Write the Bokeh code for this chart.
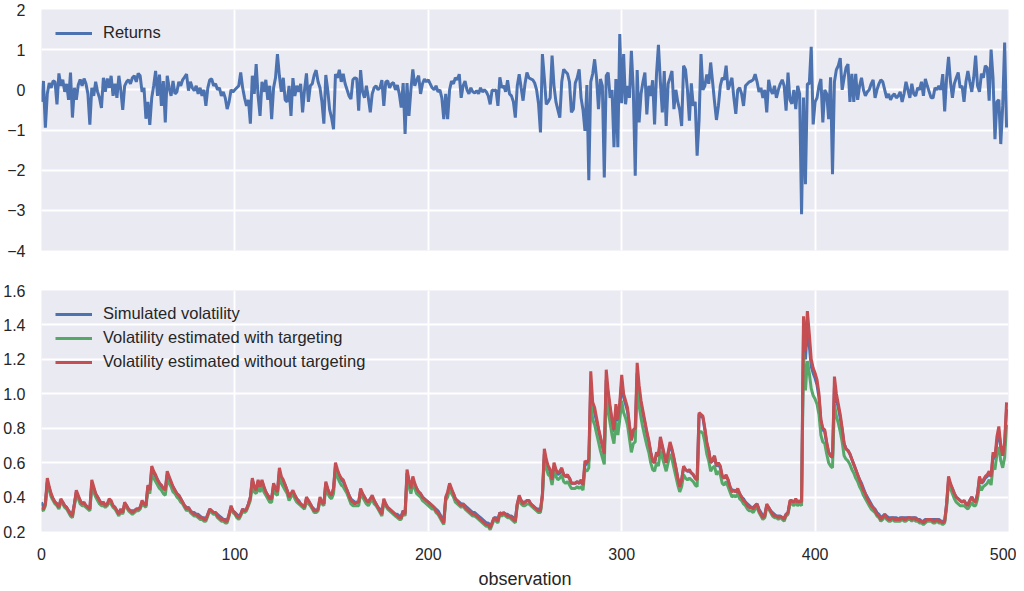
from bokeh.plotting import figure
from bokeh.layouts import column
from bokeh.models import Range1d, FixedTicker, CustomJSTickFormatter, ColumnDataSource
from bokeh.embed import file_html
from bokeh.resources import INLINE

# ---------------- data ----------------
returns = [
    -0.3, 0.22, -0.94, -0.1, 0.17, 0.05, 0.22, 0.2, -0.36, 0.41,
    0.1, 0.25, -0.05, 0.15, -0.25, 0.43, -0.69, 0.05, -0.25, 0.12,
    0.26, 0.1, 0.28, 0.15, -0.1, -0.87, 0.05, -0.15, 0.2, -0.05,
    -0.2, -0.45, 0.3, -0.05, 0.28, 0.05, 0.35, -0.15, 0.15, -0.2,
    0.35, 0.0, -0.5, 0.1, 0.2, 0.25, 0.15, 0.3, 0.35, 0.2,
    0.41, 0.35, -0.05, 0.05, -0.72, -0.3, -0.87, -0.2, 0.1, 0.47,
    -0.15, 0.38, -0.4, 0.22, -0.81, 0.35, 0.05, -0.15, 0.22, -0.1,
    -0.05, 0.2, 0.1, 0.25, 0.32, 0.39, -0.02, 0.2, 0.05, -0.02,
    0.1, -0.1, 0.05, -0.15, 0.0, -0.4, 0.05, 0.25, 0.27, 0.1,
    0.15, 0.0, 0.05, -0.15, -0.05, -0.2, -0.48, -0.3, 0.0, -0.05,
    0.0, 0.05, 0.1, 0.43, 0.05, -0.2, -0.4, -0.25, -0.84, 0.35,
    -0.1, 0.64, -0.15, -0.65, 0.2, -0.05, 0.25, -0.25, 0.1, -0.73,
    0.05, 0.3, 0.89, 0.35, -0.05, 0.3, -0.25, -0.3, 0.1, -0.65,
    0.29, -0.15, 0.1, -0.05, 0.15, -0.56, 0.0, 0.41, -0.3, 0.1,
    0.15, 0.37, 0.49, 0.2, 0.05, -0.3, -0.84, 0.37, 0.0, -0.5,
    -0.7, -0.98, 0.39, 0.3, 0.5, 0.2, 0.4, 0.15, 0.0, -0.15,
    -0.23, 0.25, 0.3, 0.28, -0.52, 0.49, -0.05, -0.2, 0.1, -0.2,
    -0.56, -0.1, 0.05, 0.1, 0.0, 0.05, 0.24, -0.4, 0.2, 0.22,
    0.05, 0.15, 0.18, 0.0, 0.12, -0.1, -0.44, 0.17, -1.1, 0.17,
    -0.65, 0.0, 0.51, 0.1, 0.25, 0.35, -0.1, 0.15, 0.27, 0.2,
    0.25, 0.15, 0.05, 0.0, 0.1, -0.05, 0.0, -0.2, -0.73, -0.1,
    -0.73, 0.0, 0.22, 0.15, 0.3, 0.25, 0.39, -0.2, 0.1, 0.22,
    0.0, -0.1, 0.05, -0.05, -0.08, -0.02, -0.1, 0.05, -0.05, 0.0,
    -0.05, -0.15, -0.36, 0.0, -0.02, 0.0, -0.4, 0.31, 0.05, 0.1,
    -0.05, 0.24, -0.1, -0.15, -0.3, -0.69, 0.1, 0.39, 0.05, -0.27,
    0.15, 0.43, 0.3, 0.27, 0.25, 0.17, 0.0, -0.35, -1.06, 0.89,
    0.3, -0.36, -0.3, -0.2, 0.85, 0.1, -0.3, -0.5, -0.69, 0.2,
    0.51, 0.45, 0.4, 0.2, -0.56, -0.48, 0.17, 0.3, 0.51, -0.2,
    -0.5, -1.02, 0.12, -2.25, 0.2, 0.4, 0.76, 0.3, -0.48, 0.27,
    0.1, -2.18, 0.35, 0.43, -0.2, 0.0, -1.43, 0.27, -1.43, 1.39,
    -0.33, 0.89, -0.36, 0.1, -0.2, 0.97, 0.0, -2.14, 0.49, -0.81,
    -0.1, 0.2, 0.43, -0.61, 0.1, -0.15, 0.24, -0.86, 0.4, 1.12,
    0.2, -0.56, 0.47, -0.9, 0.15, 0.3, 0.47, -0.48, 0.0, -0.3,
    -0.5, -0.9, 0.6, 0.5, 0.0, -0.77, 0.16, -0.4, -0.3, -1.64,
    -0.77, 0.89, 0.0, 0.1, 0.38, 0.15, 0.68, 0.2, -0.3, -0.75,
    -0.4, 0.1, 0.3, 0.25, 0.6, 0.0, 0.15, 0.3, -0.2, -0.6,
    0.0, 0.05, -0.1, -0.4, 0.1, 0.15, 0.2, 0.22, 0.25, 0.39,
    0.2, -0.05, 0.05, -0.2, 0.0, -0.56, 0.25, 0.0, -0.1, 0.1,
    -0.2, 0.0, 0.15, 0.25, 0.1, -0.52, 0.43, -0.25, -0.35, 0.0,
    -0.48, 0.1, -0.1, -3.1, -0.19, -2.35, 0.15, 0.15, 1.07, -0.86,
    -0.3, -0.2, 0.1, 0.27, -0.81, 0.0, -0.1, -0.73, 0.31, -2.1,
    0.2, 0.5, 0.6, 0.79, 0.0, 0.3, 0.55, 0.64, -0.3, 0.4,
    -0.3, 0.4, -0.25, 0.1, 0.3, 0.0, -0.15, -0.05, 0.0, 0.15,
    0.25, -0.2, 0.0, 0.15, 0.25, 0.2, 0.0, -0.2, -0.1, -0.25,
    -0.15, -0.1, -0.2, -0.15, -0.05, -0.3, -0.1, 0.2, 0.0, -0.2,
    0.15, -0.1, -0.15, 0.05, 0.0, 0.2, -0.15, 0.27, 0.1, -0.05,
    -0.2, -0.2, 0.05, 0.0, 0.1, 0.0, 0.39, -0.54, 0.3, 0.82,
    0.2, -0.2, 0.15, 0.3, 0.43, 0.05, 0.1, -0.3, 0.2, 0.47,
    0.2, -0.05, 0.3, 0.85, 0.1, -0.05, 0.4, 0.3, 0.6, 0.55,
    -0.27, 1.0, 0.3, -1.23, -0.3, -0.25, -1.35, -0.4, 1.18, -0.94,
]

sim_vol = [
    0.37, 0.34, 0.36, 0.49, 0.45, 0.41, 0.39, 0.37, 0.36, 0.35,
    0.38, 0.37, 0.35, 0.34, 0.32, 0.31, 0.30, 0.36, 0.43, 0.40,
    0.38, 0.36, 0.36, 0.35, 0.34, 0.33, 0.48, 0.45, 0.42, 0.40,
    0.38, 0.36, 0.37, 0.35, 0.36, 0.38, 0.37, 0.35, 0.34, 0.32,
    0.31, 0.33, 0.31, 0.36, 0.35, 0.33, 0.32, 0.32, 0.32, 0.33,
    0.33, 0.34, 0.37, 0.36, 0.35, 0.46, 0.44, 0.56, 0.54, 0.52,
    0.50, 0.48, 0.46, 0.45, 0.44, 0.53, 0.51, 0.48, 0.46, 0.44,
    0.42, 0.41, 0.39, 0.37, 0.35, 0.34, 0.34, 0.32, 0.31, 0.31,
    0.30, 0.30, 0.29, 0.28, 0.28, 0.27, 0.30, 0.33, 0.32, 0.31,
    0.31, 0.30, 0.29, 0.28, 0.27, 0.27, 0.26, 0.30, 0.34, 0.32,
    0.31, 0.30, 0.29, 0.30, 0.33, 0.32, 0.33, 0.36, 0.40, 0.50,
    0.46, 0.44, 0.49, 0.46, 0.49, 0.46, 0.43, 0.41, 0.40, 0.39,
    0.47, 0.45, 0.43, 0.55, 0.51, 0.49, 0.47, 0.44, 0.41, 0.42,
    0.43, 0.41, 0.39, 0.38, 0.36, 0.35, 0.34, 0.39, 0.38, 0.36,
    0.34, 0.33, 0.32, 0.33, 0.39, 0.37, 0.36, 0.48, 0.44, 0.42,
    0.41, 0.45, 0.58, 0.55, 0.52, 0.50, 0.49, 0.46, 0.44, 0.41,
    0.39, 0.38, 0.37, 0.37, 0.37, 0.44, 0.42, 0.40, 0.38, 0.37,
    0.39, 0.40, 0.38, 0.36, 0.34, 0.33, 0.31, 0.38, 0.36, 0.34,
    0.33, 0.32, 0.31, 0.30, 0.30, 0.29, 0.29, 0.32, 0.31, 0.54,
    0.49, 0.45, 0.50, 0.47, 0.45, 0.43, 0.42, 0.40, 0.39, 0.38,
    0.37, 0.36, 0.35, 0.34, 0.33, 0.32, 0.30, 0.28, 0.26, 0.39,
    0.42, 0.47, 0.44, 0.42, 0.39, 0.38, 0.37, 0.36, 0.36, 0.35,
    0.34, 0.33, 0.32, 0.31, 0.31, 0.30, 0.29, 0.28, 0.27, 0.26,
    0.25, 0.25, 0.23, 0.25, 0.28, 0.28, 0.27, 0.31, 0.30, 0.31,
    0.30, 0.30, 0.29, 0.29, 0.28, 0.27, 0.36, 0.40, 0.38, 0.37,
    0.37, 0.38, 0.38, 0.36, 0.35, 0.34, 0.33, 0.33, 0.32, 0.41,
    0.65, 0.60, 0.57, 0.55, 0.50, 0.58, 0.55, 0.53, 0.54, 0.56,
    0.53, 0.52, 0.52, 0.51, 0.48, 0.48, 0.48, 0.49, 0.48, 0.49,
    0.47, 0.59, 0.59, 0.61, 1.05, 0.91, 0.89, 0.84, 0.79, 0.74,
    0.70, 0.65, 1.08, 0.99, 0.91, 0.84, 0.78, 0.91, 0.84, 0.93,
    1.06, 0.98, 0.94, 0.90, 0.81, 0.73, 0.78, 0.79, 1.12, 1.01,
    0.94, 0.88, 0.83, 0.77, 0.72, 0.66, 0.61, 0.60, 0.65, 0.64,
    0.73, 0.69, 0.64, 0.60, 0.65, 0.70, 0.67, 0.62, 0.57, 0.51,
    0.47, 0.50, 0.57, 0.56, 0.55, 0.55, 0.54, 0.53, 0.51, 0.50,
    0.88, 0.87, 0.86, 0.79, 0.71, 0.67, 0.60, 0.61, 0.63, 0.58,
    0.59, 0.57, 0.52, 0.51, 0.52, 0.50, 0.46, 0.44, 0.44, 0.43,
    0.44, 0.42, 0.40, 0.39, 0.37, 0.36, 0.35, 0.34, 0.34, 0.35,
    0.36, 0.33, 0.31, 0.29, 0.30, 0.35, 0.34, 0.32, 0.31, 0.30,
    0.29, 0.29, 0.29, 0.28, 0.28, 0.30, 0.31, 0.37, 0.37, 0.37,
    0.38, 0.37, 0.37, 0.37, 1.36, 1.20, 1.38, 1.28, 1.16, 1.12,
    1.09, 1.05, 0.98, 0.84, 0.79, 0.78, 0.71, 0.66, 0.64, 0.63,
    1.04, 0.97, 0.92, 0.86, 0.79, 0.71, 0.68, 0.67, 0.65, 0.62,
    0.59, 0.56, 0.53, 0.50, 0.48, 0.45, 0.42, 0.40, 0.38, 0.36,
    0.34, 0.33, 0.31, 0.30, 0.28, 0.29, 0.30, 0.29, 0.28, 0.28,
    0.28, 0.28, 0.28, 0.27, 0.28, 0.28, 0.28, 0.28, 0.28, 0.28,
    0.28, 0.28, 0.28, 0.27, 0.27, 0.26, 0.26, 0.27, 0.27, 0.27,
    0.27, 0.27, 0.27, 0.27, 0.27, 0.26, 0.26, 0.26, 0.36, 0.50,
    0.47, 0.45, 0.42, 0.40, 0.39, 0.38, 0.37, 0.38, 0.36, 0.36,
    0.38, 0.40, 0.38, 0.37, 0.42, 0.51, 0.48, 0.49, 0.51, 0.52,
    0.54, 0.52, 0.64, 0.62, 0.72, 0.78, 0.69, 0.64, 0.70, 0.91,
]

vol_targeting = [
    0.33, 0.32, 0.35, 0.48, 0.44, 0.40, 0.38, 0.36, 0.35, 0.33,
    0.37, 0.36, 0.34, 0.33, 0.31, 0.29, 0.28, 0.35, 0.41, 0.39,
    0.36, 0.35, 0.35, 0.34, 0.33, 0.32, 0.46, 0.43, 0.40, 0.38,
    0.36, 0.35, 0.35, 0.34, 0.35, 0.37, 0.36, 0.34, 0.33, 0.31,
    0.29, 0.32, 0.30, 0.35, 0.34, 0.32, 0.31, 0.30, 0.31, 0.32,
    0.32, 0.33, 0.36, 0.35, 0.34, 0.44, 0.42, 0.53, 0.51, 0.49,
    0.47, 0.45, 0.44, 0.42, 0.41, 0.50, 0.48, 0.46, 0.43, 0.42,
    0.40, 0.39, 0.37, 0.36, 0.34, 0.32, 0.33, 0.31, 0.30, 0.29,
    0.29, 0.28, 0.27, 0.27, 0.26, 0.26, 0.29, 0.32, 0.31, 0.30,
    0.30, 0.28, 0.27, 0.26, 0.26, 0.25, 0.25, 0.29, 0.34, 0.31,
    0.30, 0.28, 0.27, 0.29, 0.32, 0.31, 0.32, 0.35, 0.38, 0.47,
    0.43, 0.42, 0.46, 0.43, 0.46, 0.43, 0.41, 0.39, 0.37, 0.37,
    0.45, 0.42, 0.41, 0.52, 0.48, 0.46, 0.44, 0.42, 0.38, 0.40,
    0.42, 0.39, 0.37, 0.36, 0.35, 0.34, 0.33, 0.38, 0.36, 0.35,
    0.33, 0.31, 0.31, 0.32, 0.38, 0.36, 0.35, 0.45, 0.42, 0.40,
    0.39, 0.42, 0.55, 0.52, 0.49, 0.47, 0.46, 0.44, 0.42, 0.39,
    0.36, 0.35, 0.35, 0.35, 0.35, 0.42, 0.40, 0.38, 0.36, 0.35,
    0.37, 0.39, 0.36, 0.35, 0.33, 0.31, 0.29, 0.37, 0.35, 0.33,
    0.32, 0.31, 0.30, 0.29, 0.28, 0.27, 0.27, 0.31, 0.29, 0.51,
    0.46, 0.42, 0.48, 0.45, 0.42, 0.41, 0.40, 0.38, 0.37, 0.36,
    0.35, 0.34, 0.33, 0.33, 0.31, 0.30, 0.28, 0.26, 0.24, 0.38,
    0.40, 0.45, 0.42, 0.40, 0.37, 0.36, 0.35, 0.34, 0.35, 0.33,
    0.32, 0.31, 0.30, 0.29, 0.29, 0.28, 0.27, 0.26, 0.25, 0.24,
    0.23, 0.23, 0.21, 0.24, 0.27, 0.26, 0.25, 0.30, 0.29, 0.30,
    0.29, 0.28, 0.28, 0.27, 0.26, 0.25, 0.35, 0.39, 0.36, 0.35,
    0.35, 0.36, 0.36, 0.35, 0.34, 0.33, 0.32, 0.31, 0.31, 0.40,
    0.62, 0.57, 0.53, 0.52, 0.47, 0.55, 0.52, 0.50, 0.51, 0.53,
    0.49, 0.48, 0.49, 0.47, 0.45, 0.45, 0.45, 0.46, 0.45, 0.46,
    0.44, 0.56, 0.55, 0.57, 0.97, 0.85, 0.82, 0.77, 0.72, 0.67,
    0.63, 0.59, 0.99, 0.90, 0.83, 0.76, 0.71, 0.84, 0.76, 0.85,
    0.96, 0.89, 0.86, 0.82, 0.74, 0.66, 0.71, 0.72, 1.03, 0.93,
    0.86, 0.80, 0.75, 0.70, 0.66, 0.60, 0.56, 0.55, 0.60, 0.58,
    0.67, 0.63, 0.59, 0.55, 0.60, 0.65, 0.62, 0.57, 0.52, 0.47,
    0.43, 0.46, 0.53, 0.51, 0.50, 0.51, 0.50, 0.49, 0.47, 0.46,
    0.78, 0.78, 0.77, 0.72, 0.65, 0.61, 0.55, 0.57, 0.58, 0.53,
    0.55, 0.53, 0.48, 0.47, 0.49, 0.46, 0.43, 0.40, 0.41, 0.40,
    0.42, 0.39, 0.38, 0.36, 0.35, 0.33, 0.32, 0.32, 0.31, 0.33,
    0.34, 0.31, 0.29, 0.27, 0.28, 0.34, 0.33, 0.31, 0.29, 0.28,
    0.28, 0.27, 0.28, 0.27, 0.26, 0.29, 0.30, 0.36, 0.36, 0.35,
    0.37, 0.35, 0.36, 0.35, 1.24, 1.02, 1.19, 1.12, 1.03, 0.99,
    0.97, 0.94, 0.88, 0.76, 0.72, 0.71, 0.65, 0.60, 0.58, 0.57,
    0.94, 0.87, 0.83, 0.78, 0.72, 0.64, 0.62, 0.61, 0.59, 0.56,
    0.54, 0.51, 0.49, 0.46, 0.44, 0.41, 0.39, 0.37, 0.35, 0.33,
    0.32, 0.31, 0.29, 0.28, 0.26, 0.27, 0.29, 0.27, 0.26, 0.26,
    0.27, 0.26, 0.26, 0.26, 0.26, 0.27, 0.26, 0.26, 0.27, 0.27,
    0.26, 0.27, 0.26, 0.26, 0.25, 0.25, 0.24, 0.25, 0.26, 0.26,
    0.26, 0.25, 0.25, 0.26, 0.25, 0.25, 0.24, 0.25, 0.34, 0.48,
    0.45, 0.42, 0.39, 0.37, 0.36, 0.35, 0.35, 0.35, 0.34, 0.33,
    0.35, 0.37, 0.35, 0.35, 0.39, 0.47, 0.44, 0.46, 0.47, 0.48,
    0.50, 0.47, 0.58, 0.56, 0.65, 0.69, 0.61, 0.57, 0.63, 0.82,
]

vol_no_targeting = [
    0.34, 0.33, 0.36, 0.51, 0.46, 0.42, 0.39, 0.37, 0.36, 0.34,
    0.39, 0.37, 0.35, 0.34, 0.32, 0.30, 0.29, 0.36, 0.44, 0.41,
    0.38, 0.36, 0.37, 0.35, 0.34, 0.33, 0.50, 0.46, 0.42, 0.40,
    0.38, 0.36, 0.37, 0.35, 0.36, 0.39, 0.38, 0.35, 0.34, 0.32,
    0.30, 0.33, 0.31, 0.37, 0.35, 0.33, 0.32, 0.31, 0.32, 0.33,
    0.33, 0.34, 0.38, 0.36, 0.35, 0.47, 0.44, 0.58, 0.55, 0.53,
    0.50, 0.48, 0.47, 0.45, 0.44, 0.55, 0.52, 0.49, 0.46, 0.44,
    0.42, 0.41, 0.39, 0.37, 0.35, 0.33, 0.34, 0.32, 0.31, 0.30,
    0.30, 0.29, 0.28, 0.28, 0.27, 0.27, 0.30, 0.33, 0.32, 0.31,
    0.31, 0.29, 0.28, 0.27, 0.27, 0.26, 0.26, 0.30, 0.35, 0.32,
    0.31, 0.29, 0.28, 0.30, 0.33, 0.32, 0.33, 0.36, 0.40, 0.51,
    0.46, 0.44, 0.50, 0.46, 0.50, 0.46, 0.43, 0.41, 0.39, 0.39,
    0.48, 0.45, 0.43, 0.57, 0.52, 0.50, 0.47, 0.44, 0.40, 0.42,
    0.44, 0.41, 0.39, 0.37, 0.36, 0.35, 0.34, 0.40, 0.38, 0.36,
    0.34, 0.32, 0.32, 0.33, 0.40, 0.37, 0.36, 0.49, 0.45, 0.42,
    0.41, 0.45, 0.60, 0.56, 0.53, 0.51, 0.50, 0.47, 0.44, 0.41,
    0.38, 0.37, 0.36, 0.37, 0.37, 0.45, 0.42, 0.40, 0.38, 0.37,
    0.39, 0.41, 0.38, 0.36, 0.34, 0.32, 0.30, 0.39, 0.36, 0.34,
    0.33, 0.32, 0.31, 0.30, 0.29, 0.28, 0.28, 0.32, 0.30, 0.56,
    0.50, 0.45, 0.52, 0.48, 0.45, 0.43, 0.42, 0.40, 0.39, 0.38,
    0.37, 0.36, 0.35, 0.34, 0.32, 0.31, 0.29, 0.27, 0.25, 0.40,
    0.43, 0.48, 0.45, 0.42, 0.39, 0.38, 0.36, 0.35, 0.36, 0.34,
    0.33, 0.32, 0.31, 0.30, 0.30, 0.29, 0.28, 0.27, 0.26, 0.25,
    0.24, 0.24, 0.22, 0.25, 0.28, 0.27, 0.26, 0.31, 0.30, 0.31,
    0.30, 0.29, 0.29, 0.28, 0.27, 0.26, 0.36, 0.41, 0.38, 0.36,
    0.37, 0.38, 0.38, 0.36, 0.35, 0.34, 0.33, 0.32, 0.32, 0.42,
    0.68, 0.62, 0.58, 0.56, 0.50, 0.60, 0.56, 0.54, 0.55, 0.57,
    0.53, 0.52, 0.53, 0.51, 0.48, 0.48, 0.48, 0.49, 0.48, 0.50,
    0.47, 0.61, 0.60, 0.62, 1.13, 0.95, 0.92, 0.86, 0.80, 0.75,
    0.70, 0.65, 1.14, 1.02, 0.93, 0.85, 0.79, 0.94, 0.85, 0.95,
    1.11, 1.00, 0.96, 0.92, 0.82, 0.73, 0.79, 0.80, 1.18, 1.05,
    0.96, 0.90, 0.84, 0.78, 0.73, 0.66, 0.61, 0.60, 0.66, 0.64,
    0.75, 0.70, 0.65, 0.60, 0.66, 0.72, 0.68, 0.63, 0.57, 0.51,
    0.46, 0.50, 0.58, 0.56, 0.55, 0.56, 0.54, 0.53, 0.51, 0.50,
    0.89, 0.88, 0.87, 0.80, 0.72, 0.67, 0.60, 0.62, 0.64, 0.58,
    0.60, 0.58, 0.52, 0.51, 0.53, 0.50, 0.46, 0.43, 0.44, 0.43,
    0.45, 0.42, 0.40, 0.38, 0.37, 0.35, 0.34, 0.34, 0.33, 0.35,
    0.36, 0.32, 0.30, 0.28, 0.29, 0.36, 0.34, 0.32, 0.30, 0.29,
    0.29, 0.28, 0.29, 0.28, 0.27, 0.30, 0.31, 0.38, 0.38, 0.37,
    0.39, 0.37, 0.38, 0.37, 1.45, 1.25, 1.48, 1.35, 1.20, 1.15,
    1.12, 1.08, 1.00, 0.85, 0.80, 0.79, 0.72, 0.66, 0.64, 0.63,
    1.10, 1.00, 0.94, 0.88, 0.80, 0.71, 0.68, 0.67, 0.65, 0.62,
    0.59, 0.56, 0.53, 0.50, 0.47, 0.44, 0.42, 0.39, 0.37, 0.35,
    0.34, 0.32, 0.30, 0.29, 0.27, 0.28, 0.30, 0.28, 0.27, 0.27,
    0.28, 0.27, 0.27, 0.27, 0.27, 0.28, 0.27, 0.27, 0.28, 0.28,
    0.27, 0.28, 0.27, 0.27, 0.26, 0.26, 0.25, 0.26, 0.27, 0.27,
    0.27, 0.26, 0.26, 0.27, 0.26, 0.26, 0.25, 0.26, 0.36, 0.52,
    0.48, 0.45, 0.42, 0.40, 0.39, 0.38, 0.37, 0.38, 0.36, 0.35,
    0.38, 0.40, 0.38, 0.37, 0.42, 0.52, 0.48, 0.50, 0.52, 0.53,
    0.55, 0.52, 0.66, 0.63, 0.75, 0.81, 0.70, 0.64, 0.72, 0.95,
]

observation = list(range(len(returns)))

x_ticks = [0, 100, 200, 300, 400, 500]
top_y_ticks = [-4, -3, -2, -1, 0, 1, 2]
bottom_y_ticks = [0.2, 0.4, 0.6, 0.8, 1.0, 1.2, 1.4, 1.6]

labels = ["Returns", "Simulated volatility",
          "Volatility estimated with targeting",
          "Volatility estimated without targeting"]
colors = ["#4C72B0", "#4C72B0", "#55A868", "#C44E52"]

FONT = "Liberation Sans"
TEXT = "#262626"
BG = "#EAEAF2"

src = ColumnDataSource(dict(x=observation, r=returns, s=sim_vol,
                            g=vol_targeting, n=vol_no_targeting))


def style(p):
    p.background_fill_color = BG
    p.border_fill_color = "white"
    p.outline_line_color = None
    p.grid.grid_line_color = "white"
    p.grid.grid_line_width = 2
    p.axis.axis_line_color = None
    p.axis.major_tick_line_color = None
    p.axis.minor_tick_line_color = None
    p.axis.major_label_text_font = FONT
    p.axis.major_label_text_font_size = "16px"
    p.axis.major_label_text_color = TEXT
    p.axis.major_label_standoff = 10
    p.xaxis.ticker = FixedTicker(ticks=x_ticks)


def style_legend(p):
    lg = p.legend[0]
    lg.location = "top_left"
    lg.background_fill_alpha = 0
    lg.border_line_alpha = 0
    lg.label_text_font = FONT
    lg.label_text_font_size = "16.5px"
    lg.label_text_color = TEXT
    lg.glyph_width = 37
    lg.glyph_height = 16
    lg.label_height = 16
    lg.label_standoff = 11
    lg.spacing = 5
    lg.margin = 3
    lg.padding = 11


LW = 3

top = figure(width=1016, height=270, x_range=Range1d(0, 500),
             y_range=Range1d(-4, 2), output_backend="svg",
             toolbar_location=None, min_border_left=40,
             min_border_right=8, min_border_top=9, min_border_bottom=20)
style(top)
top.yaxis.ticker = FixedTicker(ticks=top_y_ticks)
top.yaxis.formatter = CustomJSTickFormatter(
    code="return (tick < 0 ? '\u2212' : '') + Math.abs(tick).toString();")
top.xaxis.visible = False
top.line("x", "r", source=src, color=colors[0], line_width=LW,
         legend_label=labels[0])
style_legend(top)

bot = figure(width=1016, height=321, x_range=top.x_range,
             y_range=Range1d(0.2, 1.6), output_backend="svg",
             toolbar_location=None, min_border_left=40,
             min_border_right=8, min_border_top=20, min_border_bottom=59)
style(bot)
bot.yaxis.ticker = FixedTicker(ticks=bottom_y_ticks)
bot.yaxis.formatter = CustomJSTickFormatter(code="return tick.toFixed(1);")
bot.xaxis.axis_label = "observation"
bot.xaxis.axis_label_text_font = FONT
bot.xaxis.axis_label_text_font_size = "18px"
bot.xaxis.axis_label_text_font_style = "normal"
bot.xaxis.axis_label_text_color = TEXT
bot.xaxis.axis_label_standoff = 6
bot.line("x", "s", source=src, color=colors[1], line_width=LW,
         legend_label=labels[1])
bot.line("x", "g", source=src, color=colors[2], line_width=LW,
         legend_label=labels[2])
bot.line("x", "n", source=src, color=colors[3], line_width=LW,
         legend_label=labels[3])
style_legend(bot)

layout = column(top, bot, spacing=0)
open("out.html", "w").write(file_html(layout, INLINE))
